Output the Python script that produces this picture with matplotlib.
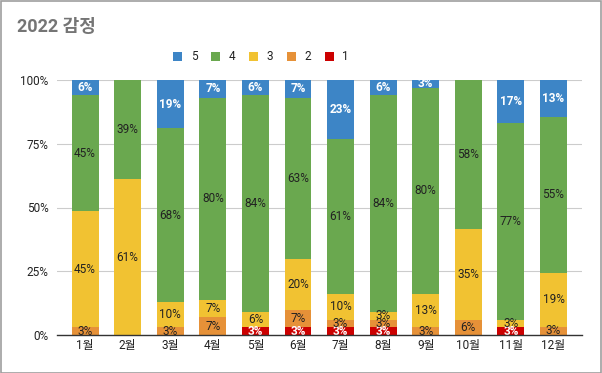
import matplotlib
matplotlib.use("Agg")
import matplotlib.pyplot as plt
from matplotlib.patches import Rectangle
import numpy as np

plt.rcParams['font.family'] = ['Roboto', 'Noto Sans CJK KR', 'DejaVu Sans']

months = ['1월', '2월', '3월', '4월', '5월', '6월', '7월', '8월', '9월', '10월', '11월', '12월']
series_names = ['1', '2', '3', '4', '5']
s1 = [0, 0, 0, 0, 3, 3, 3, 3, 0, 0, 3, 0]
s2 = [3, 0, 3, 7, 0, 7, 3, 3, 3, 6, 0, 3]
s3 = [45, 61, 10, 7, 6, 20, 10, 3, 13, 35, 3, 19]
s4 = [45, 39, 68, 80, 84, 63, 61, 84, 80, 58, 77, 55]
s5 = [6, 0, 19, 7, 6, 7, 23, 6, 3, 0, 17, 13]
colors = ['#cc0000', '#e69138', '#f1c232', '#6aa84f', '#3d85c6']
label_colors = ['white', '#222222', '#222222', '#222222', 'white']
yticks = [0, 25, 50, 75, 100]
ytick_labels = ['0%', '25%', '50%', '75%', '100%']

data = np.array([s1, s2, s3, s4, s5], dtype=float)
totals = data.sum(axis=0)
norm = data / totals * 100

W, H = 602, 373
fig = plt.figure(figsize=(W / 100, H / 100), dpi=100)
ax = fig.add_axes([57 / W, 1 - 335 / H, (582 - 57) / W, (335 - 80) / H])

x = np.arange(len(months))
bottom = np.zeros(len(months))
handles = []
for i, name in enumerate(series_names):
    b = ax.bar(x, norm[i], bottom=bottom, width=0.63, color=colors[i], label=name, zorder=3)
    handles.append(b)
    for j in range(len(months)):
        if data[i, j] > 0:
            ax.text(x[j], bottom[j] + norm[i, j] / 2, f"{int(data[i, j])}%",
                    ha='center', va='center', fontsize=8.5, color=label_colors[i],
                    fontweight='bold' if i in (0, 4) else 'normal', zorder=4)
    bottom += norm[i]

ax.set_xlim(-0.66, 11.67)
ax.set_ylim(0, 100)
ax.set_yticks(yticks)
ax.set_yticklabels(ytick_labels)
ax.set_xticks(x)
ax.set_xticklabels(months)
ax.tick_params(axis='both', length=0, labelsize=8.5, colors='#222222')
ax.tick_params(axis='y', pad=6)
ax.tick_params(axis='x', pad=3)
ax.grid(axis='y', color='#cccccc', linewidth=0.8, zorder=0)
for s in ['top', 'right', 'left']:
    ax.spines[s].set_visible(False)
ax.spines['bottom'].set_color('#333333')
ax.spines['bottom'].set_linewidth(1.0)
ax.spines['bottom'].set_zorder(5)

fig.text(17 / W, 1 - 27 / H, '2022 감정', fontsize=13, fontweight='bold', color='#757575',
         ha='left', va='center')

leg = fig.legend(handles=handles[::-1], labels=series_names[::-1], ncol=5,
                 loc='center', bbox_to_anchor=(261 / W, 1 - 57 / H), frameon=False,
                 fontsize=8.5, handlelength=0.8, handleheight=0.8, handletextpad=0.7,
                 columnspacing=1.15, borderpad=0)
for t in leg.get_texts():
    t.set_color('#222222')

fig.patches.append(Rectangle((0.5 / W, 0.5 / H), 1 - 1.5 / W, 1 - 1.5 / H, transform=fig.transFigure,
                             fill=False, edgecolor='#9e9e9e', linewidth=1.2))

fig.savefig('out.png', dpi=100)
